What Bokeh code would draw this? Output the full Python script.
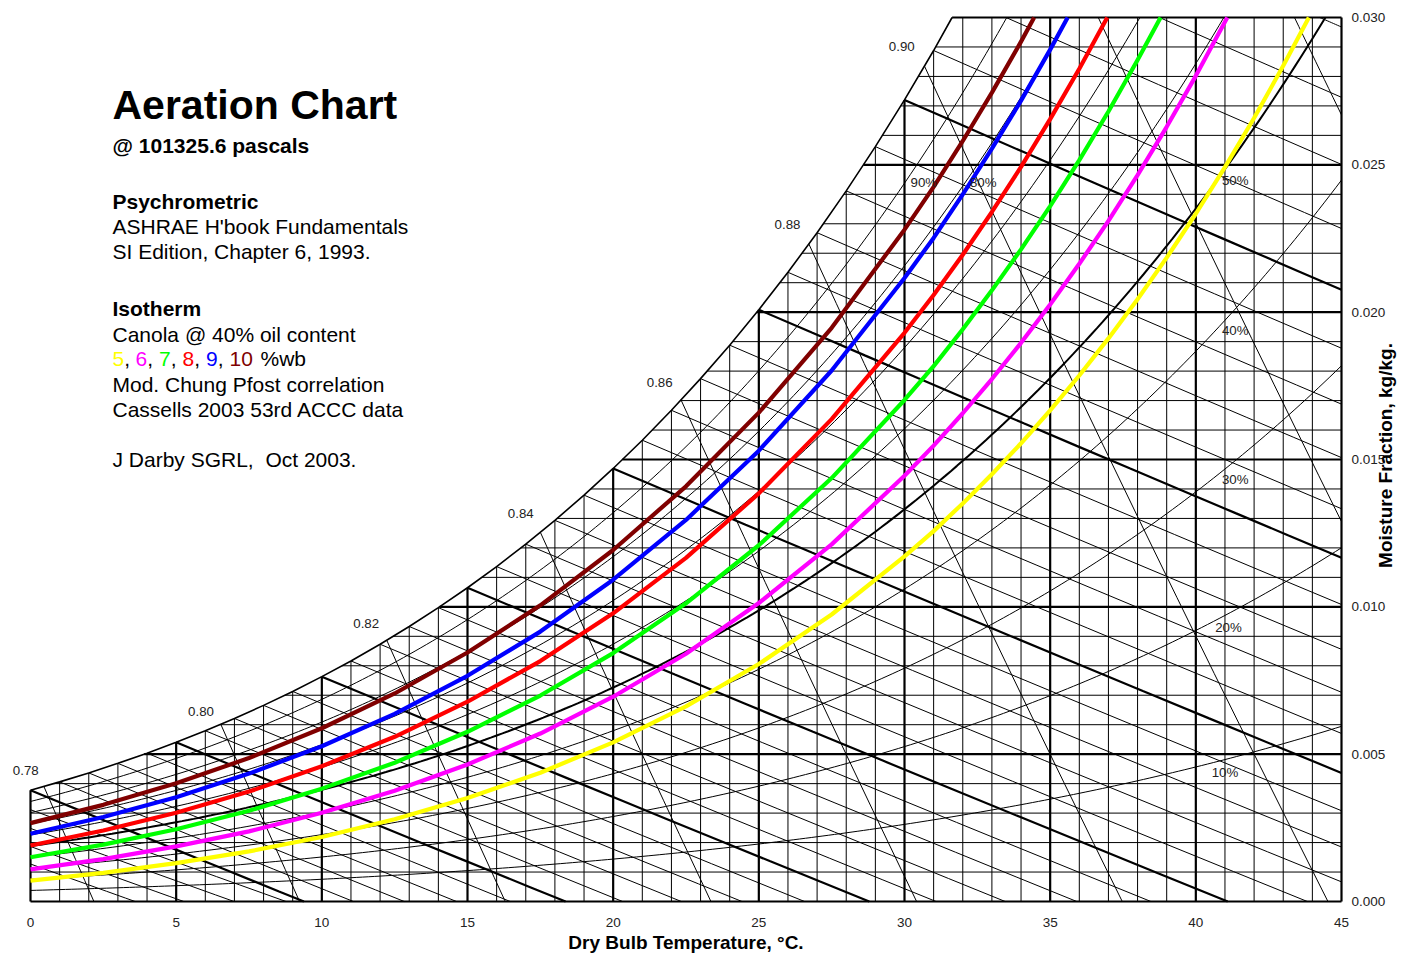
import numpy as np
from bokeh.plotting import figure
from bokeh.models import Label, Range1d
from bokeh.embed import file_html
from bokeh.resources import INLINE

# ------------------------------------------------------------------ data
PRESSURE_KPA = 101.3256

DRY_BULB_TICKS = [0, 5, 10, 15, 20, 25, 30, 35, 40, 45]
MOISTURE_TICKS = [0.000, 0.005, 0.010, 0.015, 0.020, 0.025, 0.030]
MOISTURE_TICK_LABELS = ["0.000", "0.005", "0.010", "0.015", "0.020", "0.025", "0.030"]
T_MIN, T_MAX = 0.0, 45.0
W_MAX = 0.030

RH_LINES = [0.1, 0.2, 0.3, 0.4, 0.5, 0.6, 0.7, 0.8, 0.9]
RH_LABELS = ["10%", "20%", "30%", "40%", "50%", "80%", "90%"]
VOLUME_LINES = [0.78, 0.80, 0.82, 0.84, 0.86, 0.88, 0.90, 0.92, 0.94]
VOLUME_LABELS = ["0.78", "0.80", "0.82", "0.84", "0.86", "0.88", "0.90"]
WET_BULB_LINES = list(range(-4, 37))

# Canola isotherms (moisture content, % wet basis): dry bulb (C) / moisture fraction
MC_WB = [5, 6, 7, 8, 9, 10]
iso_t_5 = [0, 2.5, 5, 7.5, 10, 12.5, 15, 17.5, 20, 22.5, 25, 27.5, 30, 31, 32, 33,
           34, 35, 36, 37, 38, 39, 40, 41, 42, 43, 43.88]
iso_w_5 = [0.00071, 0.00097, 0.00130, 0.00170, 0.00219, 0.00279, 0.00351, 0.00437,
           0.00540, 0.00662, 0.00806, 0.00974, 0.01171, 0.01257, 0.01351, 0.01450,
           0.01555, 0.01667, 0.01785, 0.01911, 0.02044, 0.02185, 0.02334, 0.02492,
           0.02659, 0.02836, 0.0300]
iso_t_6 = [0, 2.5, 5, 7.5, 10, 12.5, 15, 17.5, 20, 22.5, 25, 27.5, 30, 31, 32, 33,
           34, 35, 36, 37, 38, 39, 40, 41.08]
iso_w_6 = [0.00109, 0.00144, 0.00187, 0.00238, 0.00301, 0.00376, 0.00465, 0.00570,
           0.00695, 0.00841, 0.01013, 0.01212, 0.01445, 0.01547, 0.01657, 0.01773,
           0.01896, 0.02026, 0.02164, 0.02310, 0.02465, 0.02629, 0.02802, 0.0300]
iso_t_7 = [0, 2.5, 5, 7.5, 10, 12.5, 15, 17.5, 20, 22.5, 25, 27.5, 30, 31, 32, 33,
           34, 35, 36, 37, 38, 38.79]
iso_w_7 = [0.00150, 0.00193, 0.00245, 0.00308, 0.00383, 0.00471, 0.00576, 0.00699,
           0.00843, 0.01012, 0.01209, 0.01437, 0.01702, 0.01817, 0.01942, 0.02074,
           0.02213, 0.02360, 0.02516, 0.02681, 0.02856, 0.0300]
iso_t_8 = [0, 2.5, 5, 7.5, 10, 12.5, 15, 17.5, 20, 22.5, 25, 27.5, 30, 31, 32, 33,
           34, 35, 36, 36.96]
iso_w_8 = [0.00190, 0.00241, 0.00301, 0.00373, 0.00459, 0.00559, 0.00678, 0.00816,
           0.00978, 0.01166, 0.01385, 0.01637, 0.01930, 0.02058, 0.02195, 0.02340,
           0.02493, 0.02655, 0.02826, 0.0300]
iso_t_9 = [0, 2.5, 5, 7.5, 10, 12.5, 15, 17.5, 20, 22.5, 25, 27.5, 30, 31, 32, 33,
           34, 35, 35.6]
iso_w_9 = [0.00230, 0.00287, 0.00354, 0.00434, 0.00527, 0.00637, 0.00766, 0.00916,
           0.01092, 0.01295, 0.01530, 0.01802, 0.02116, 0.02252, 0.02400, 0.02555,
           0.02718, 0.02891, 0.0300]
iso_t_10 = [0, 2.5, 5, 7.5, 10, 12.5, 15, 17.5, 20, 22.5, 25, 27.5, 30, 31, 32, 33,
            34, 34.45]
iso_w_10 = [0.00266, 0.00328, 0.00401, 0.00487, 0.00588, 0.00706, 0.00845, 0.01005,
            0.01193, 0.01409, 0.01659, 0.01947, 0.02280, 0.02425, 0.02581, 0.02745,
            0.02918, 0.0300]

ISO_T = [iso_t_5, iso_t_6, iso_t_7, iso_t_8, iso_t_9, iso_t_10]
ISO_W = [iso_w_5, iso_w_6, iso_w_7, iso_w_8, iso_w_9, iso_w_10]
ISO_COLORS = ["#ffff00", "#ff00ff", "#00ff00", "#ff0000", "#0000ff", "#800000"]

# ------------------------------------------------------------ layout
W_PX, H_PX = 1425, 962
PLOT_L, PLOT_R, PLOT_T, PLOT_B = 30, 1341, 17, 901   # pixels of 0 C / 45 C / 0.030 / 0.000
FONT = "Liberation Sans"
TEXT_GREY = "#222222"
PX_PER_C = (PLOT_R - PLOT_L) / (T_MAX - T_MIN)


def dx(px):
    return (px - PLOT_L) / PX_PER_C + T_MIN


def dy(py):
    return (PLOT_B - py) / (PLOT_B - PLOT_T) * W_MAX


# --------------------------------------------- psychrometrics (ASHRAE 1993)
def p_ws(t):
    """Saturation vapour pressure, kPa (Hyland-Wexler)."""
    t = np.asarray(t, dtype=float)
    T = t + 273.15
    water = np.exp(-5.8002206e3 / T + 1.3914993 - 4.8640239e-2 * T
                   + 4.1764768e-5 * T ** 2 - 1.4452093e-8 * T ** 3
                   + 6.5459673 * np.log(T))
    ice = np.exp(-5.6745359e3 / T + 6.3925247 - 9.677843e-3 * T
                 + 6.2215701e-7 * T ** 2 + 2.0747825e-9 * T ** 3
                 - 9.484024e-13 * T ** 4 + 4.1635019 * np.log(T))
    return np.where(t >= 0, water, ice) / 1000.0


def w_of_pw(pw):
    return 0.62198 * pw / (PRESSURE_KPA - pw)


def w_sat(t):
    return w_of_pw(p_ws(t))


# saturation boundary, straight segments between whole degrees
_st = np.arange(0, 34, dtype=float)
_sw = w_sat(_st)
_k = int(np.argmax(_sw > W_MAX))
_t_top = _st[_k - 1] + (W_MAX - _sw[_k - 1]) / (_sw[_k] - _sw[_k - 1])
SAT_T = np.concatenate([_st[:_k], [_t_top]])
SAT_W = np.concatenate([_sw[:_k], [W_MAX]])


def t_on_sat(w):
    return float(np.interp(w, SAT_W, SAT_T))


# the frame covers the whole page; scale labels and titles sit inside it
p = figure(width=W_PX, height=H_PX, output_backend="svg", toolbar_location=None,
           x_range=Range1d(dx(0), dx(W_PX)), y_range=Range1d(dy(H_PX), dy(0)),
           x_axis_location=None, y_axis_location=None, min_border=0)
p.grid.visible = False
p.outline_line_color = None
p.background_fill_color = "white"
p.border_fill_color = "white"

thin_x, thin_y, thick_x, thick_y = [], [], [], []


def add(xs, ys, thick):
    (thick_x if thick else thin_x).append(list(map(float, xs)))
    (thick_y if thick else thin_y).append(list(map(float, ys)))


# dry bulb verticals
for t in range(int(T_MIN), int(T_MAX) + 1):
    top = float(w_sat(t)) if t <= SAT_T[-1] else W_MAX
    top = min(top, W_MAX)
    add([t, t], [0, top], t % 5 == 0)

# moisture horizontals
for k in range(0, 31):
    w = k / 1000.0
    x0 = max(T_MIN, t_on_sat(w)) if w > SAT_W[0] else T_MIN
    add([x0, T_MAX], [w, w], k % 5 == 0)

# wet bulb lines
for ts in WET_BULB_LINES:
    ws = float(w_sat(ts))
    if ts >= 0:
        A, D0 = (2501 - 2.381 * ts) * ws, 2501 - 4.186 * ts
    else:
        A, D0 = (2830 - 0.24 * ts) * ws, 2830 - 2.1 * ts
    b = 1.805

    def wb(t):
        return (A - 1.006 * (t - ts)) / (D0 + b * t)

    if ts < 0:
        t0 = T_MIN
    elif ws <= W_MAX:
        t0 = float(ts)
    else:
        t0 = (A + 1.006 * ts - W_MAX * D0) / (1.006 + W_MAX * b)
    t1 = min(ts + A / 1.006, T_MAX)
    if t0 >= t1:
        continue
    tt = np.linspace(t0, t1, 12)
    add(tt, np.clip(wb(tt), 0, None), ts % 5 == 0)


# specific volume lines
def t_vol(v, w):
    return v * PRESSURE_KPA / (0.287055 * (1 + 1.6078 * w)) - 273.15


for v in VOLUME_LINES:
    if t_vol(v, W_MAX) > t_on_sat(W_MAX):
        w_hi = W_MAX
    else:
        lo, hi = 0.0, W_MAX
        for _ in range(60):
            mid = 0.5 * (lo + hi)
            if t_vol(v, mid) > t_on_sat(mid):
                lo = mid
            else:
                hi = mid
        w_hi = lo
    w_lo = 0.0
    if t_vol(v, 0.0) > T_MAX:
        w_lo = (v * PRESSURE_KPA / (0.287055 * (T_MAX + 273.15)) - 1) / 1.6078
    if w_lo >= w_hi:
        continue
    ww = np.linspace(w_hi, w_lo, 12)
    add(t_vol(v, ww), ww, False)

p.multi_line(thin_x, thin_y, line_color="black", line_width=1)
p.multi_line(thick_x, thick_y, line_color="black", line_width=2.2)

# saturation boundary
p.line(SAT_T, SAT_W, line_color="black", line_width=1.6)

# relative humidity curves
tt = np.linspace(T_MIN, T_MAX, 226)
for rh in RH_LINES:
    pw = rh * p_ws(tt)
    ww = w_of_pw(pw)
    keep = ww <= W_MAX
    xs, ys = list(tt[keep]), list(ww[keep])
    if not keep.all():
        j = int(np.argmax(~keep))
        xs.append(tt[j - 1] + (W_MAX - ww[j - 1]) / (ww[j] - ww[j - 1]) * (tt[j] - tt[j - 1]))
        ys.append(W_MAX)
    p.line(xs, ys, line_color="black", line_width=2 if rh == 0.5 else 1)

# isotherms
for ts_, ws_, col in zip(ISO_T, ISO_W, ISO_COLORS):
    p.line(ts_, ws_, line_color=col, line_width=4.2, line_join="round")


# ------------------------------------------------------------------ text
def text(x, y, s, size, bold=False, color="black", align="left",
         x_off=0, y_off=0, angle=0.0):
    """Text whose visual centre line sits at data (x, y) shifted by pixel offsets."""
    p.add_layout(Label(x=x, y=y, x_offset=x_off, y_offset=y_off, text=s, angle=angle,
                       text_align=align, text_baseline="alphabetic", text_font=FONT,
                       text_font_style="bold" if bold else "normal",
                       text_font_size=f"{size}px", text_color=color))


def label(px, baseline_py, s, size, **kw):
    text(dx(px), dy(baseline_py - 0.37 * size), s, size, **kw)


# scale labels
for t in DRY_BULB_TICKS:
    text(t, 0.0, str(t), 13.5, color=TEXT_GREY, align="center", y_off=-21)
for w, s in zip(MOISTURE_TICKS, MOISTURE_TICK_LABELS):
    text(T_MAX, w, s, 13.5, color=TEXT_GREY, x_off=10)

text((T_MIN + T_MAX) / 2, 0.0, "Dry Bulb Temperature, \u00b0C.", 19, bold=True,
     align="center", y_off=-41)
text(T_MAX, W_MAX / 2, "Moisture Fraction, kg/kg.", 19, bold=True,
     align="center", x_off=44, y_off=4, angle=np.pi / 2)

# RH and volume annotations
RH_LABEL_POS = [(1224.5, 772.5), (1228, 627.5), (1234.7, 479.5), (1234.7, 330.5),
                (1234.7, 180.3), (982.7, 182), (923.3, 182)]
for s, (px, py) in zip(RH_LABELS, RH_LABEL_POS):
    label(px, py + 4.8, s, 13.3, color=TEXT_GREY, align="center")

VOL_LABEL_POS = [(25.3, 770), (200.5, 711), (365.7, 623), (520.3, 513),
                 (659.2, 382), (787, 224), (901.3, 46.2)]
for s, (px, py) in zip(VOLUME_LABELS, VOL_LABEL_POS):
    label(px, py + 4.8, s, 13.3, color=TEXT_GREY, align="center")

# text block
label(112, 119.5, "Aeration Chart", 41, bold=True)
label(112, 152.7, "@ 101325.6 pascals", 21, bold=True)
label(112, 208.8, "Psychrometric", 21, bold=True)
label(112, 234.0, "ASHRAE H'book Fundamentals", 21)
label(112, 259.2, "SI Edition, Chapter 6, 1993.", 21)
label(112, 315.7, "Isotherm", 21, bold=True)
label(112, 341.7, "Canola @ 40% oil content", 21)
MC_X = [112, 135, 158.5, 182, 205.5, 229]
for mc, x0, col in zip(MC_WB, MC_X, ISO_COLORS):
    label(x0, 366.2, str(mc), 21, color=col)
    if mc != MC_WB[-1]:
        label(x0 + 11.7, 366.2, ",", 21)
label(260, 366.2, "%wb", 21)
label(112, 391.7, "Mod. Chung Pfost correlation", 21)
label(112, 416.5, "Cassells 2003 53rd ACCC data", 21)
label(112, 466.7, "J Darby SGRL,\u00a0 Oct 2003.", 21)

open("out.html", "w").write(file_html(p, INLINE))
